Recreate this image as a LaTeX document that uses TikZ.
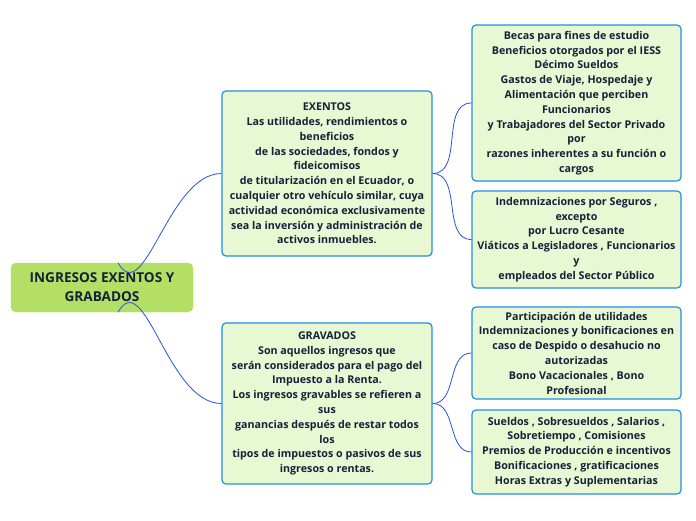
\documentclass[tikz,border=0pt]{standalone}
\usepackage{fontspec}
\setmainfont{Open Sans}
\definecolor{rootg}{HTML}{B3E064}
\definecolor{boxg}{HTML}{E8F8D2}
\definecolor{edge}{HTML}{1E90E8}
\definecolor{txt}{HTML}{15203A}
\definecolor{line}{HTML}{2255E0}
\begin{document}
\begin{tikzpicture}[x=1pt,y=-1pt,
  box/.style={draw=edge,line width=1.2pt,fill=boxg,rounded corners=4pt,align=center,text=txt,font=\fontsize{10.7}{14.8}\selectfont\bfseries,inner sep=0pt},
  conn/.style={draw=line,line width=0.8pt}]
\useasboundingbox (0,0) rectangle (696,520);
\node[draw=rootg,fill=rootg,rounded corners=5pt,minimum width=182pt,minimum height=49pt,align=center,text=txt,font=\fontsize{13.6}{19}\selectfont\bfseries,inner sep=0pt] (root) at (102,287.5) {INGRESOS EXENTOS Y\\GRABADOS};
\node[box,minimum width=210pt,minimum height=165pt] (ex) at (327,173.5) {EXENTOS\\Las utilidades, rendimientos o\\beneficios\\de las sociedades, fondos y\\fideicomisos\\de titularización en el Ecuador, o\\cualquier otro vehículo similar, cuya\\actividad económica exclusivamente\\sea la inversión y administración de\\activos inmuebles.};
\node[box,minimum width=210pt,minimum height=161pt] (gr) at (327,403.5) {GRAVADOS\\Son aquellos ingresos que\\serán considerados para el pago del\\Impuesto a la Renta.\\Los ingresos gravables se refieren a\\sus\\ganancias después de restar todos\\los\\tipos de impuestos o pasivos de sus\\ingresos o rentas.};
\node[box,minimum width=209pt,minimum height=156pt] (b1) at (576.5,103) {Becas para fines de estudio\\Beneficios otorgados por el IESS\\Décimo Sueldos\\Gastos de Viaje, Hospedaje y\\Alimentación que perciben\\Funcionarios\\y Trabajadores del Sector Privado\\por\\razones inherentes a su función o\\cargos};
\node[box,minimum width=209pt,minimum height=97pt] (b2) at (576.5,239.5) {Indemnizaciones por Seguros ,\\excepto\\por Lucro Cesante\\Viáticos a Legisladores , Funcionarios\\y\\empleados del Sector Público};
\node[box,minimum width=209pt,minimum height=92pt] (b3) at (576.5,353) {Participación de utilidades\\Indemnizaciones y bonificaciones en\\caso de Despido o desahucio no\\autorizadas\\Bono Vacacionales , Bono\\Profesional};
\node[box,minimum width=209pt,minimum height=84pt] (b4) at (576.5,452) {Sueldos , Sobresueldos , Salarios ,\\Sobretiempo , Comisiones\\Premios de Producción e incentivos\\Bonificaciones , gratificaciones\\Horas Extras y Suplementarias};
\draw[conn] (root.north) ++(16,0) to[out=-60,in=180] (ex.west);
\draw[conn] (root.south) ++(16,0) to[out=60,in=180] (gr.west);
\draw[conn] (ex.east) to[out=0,in=180] (b1.west);
\draw[conn] (ex.east) to[out=0,in=180] (b2.west);
\draw[conn] (gr.east) to[out=0,in=180] (b3.west);
\draw[conn] (gr.east) to[out=0,in=180] (b4.west);
\end{tikzpicture}
\end{document}
